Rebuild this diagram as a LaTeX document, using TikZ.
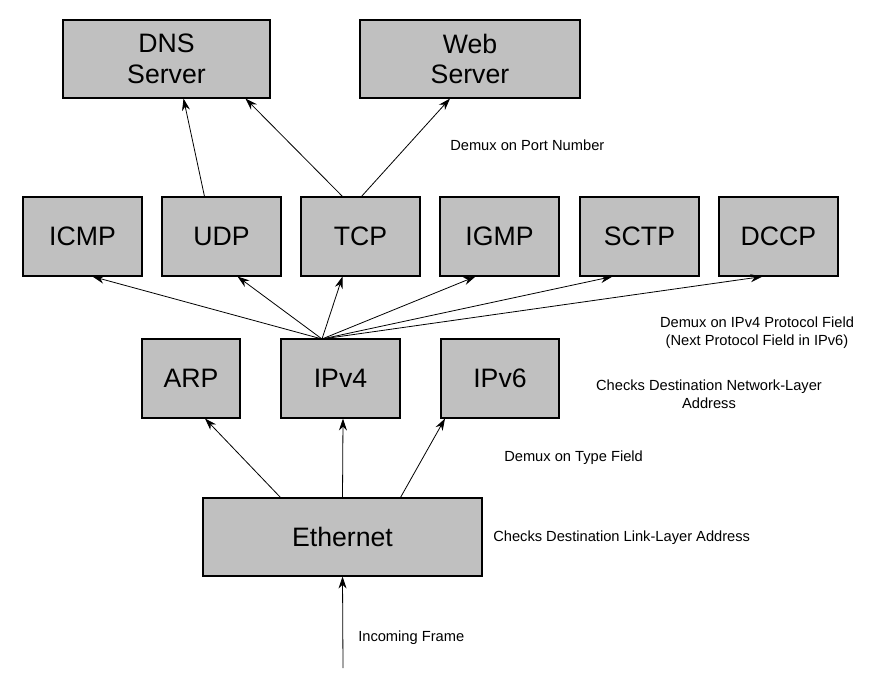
\documentclass[tikz,border=0pt]{standalone}
\usepackage{fontspec}
\setmainfont{Liberation Sans}
\usetikzlibrary{arrows.meta}
\begin{document}
\begin{tikzpicture}[x=0.75pt,y=0.75pt,yscale=-1,
  box/.style={draw,fill={rgb,255:red,192;green,192;blue,192},line width=0.8pt,inner sep=0pt,align=center,font=\fontsize{20}{23}\selectfont},
  lbl/.style={font=\fontsize{11}{13.5}\selectfont,inner sep=0pt},
  arr/.style={-{Stealth[length=9pt,width=6pt]},line width=0.6pt}]
\useasboundingbox (0,0) rectangle (891,681);
% top servers
\node[box,minimum width=207*0.75pt,minimum height=78*0.75pt] (dns) at (166.5,59) {DNS\\Server};
\node[box,minimum width=220*0.75pt,minimum height=78*0.75pt] (web) at (470,59) {Web\\Server};
% transport layer
\foreach \n/\t/\x in {icmp/ICMP/82.5,udp/UDP/221.5,tcp/TCP/360.5,igmp/IGMP/499.5,sctp/SCTP/639.5,dccp/DCCP/778.5}
  \node[box,minimum width=119*0.75pt,minimum height=79*0.75pt] (\n) at (\x,236.5) {\t};
% network layer
\node[box,minimum width=98*0.75pt,minimum height=79*0.75pt] (arp) at (191,378.5) {ARP};
\node[box,minimum width=119*0.75pt,minimum height=79*0.75pt] (ipv4) at (340.5,378.5) {IPv4};
\node[box,minimum width=118*0.75pt,minimum height=79*0.75pt] (ipv6) at (500,378.5) {IPv6};
% link layer
\node[box,minimum width=279*0.75pt,minimum height=78*0.75pt] (eth) at (342.5,537) {Ethernet};
\coordinate (in) at (343,668);
% connectors
\draw[arr] (in) -- (eth.south);
\draw[arr] ([xshift=-62*0.75pt]eth.north) -- ([xshift=14*0.75pt]arp.south);
\draw[arr] (eth.north) -- ([xshift=2.5*0.75pt]ipv4.south);
\draw[arr] ([xshift=58*0.75pt]eth.north) -- ([xshift=-55*0.75pt]ipv6.south);
\coordinate (v4top) at (322,339);
\draw[arr] (v4top) -- ([xshift=10*0.75pt]icmp.south);
\draw[arr] (v4top) -- ([xshift=16*0.75pt]udp.south);
\draw[arr] (v4top) -- ([xshift=-18*0.75pt]tcp.south);
\draw[arr] (v4top) -- ([xshift=-24*0.75pt]igmp.south);
\draw[arr] (v4top) -- ([xshift=-27*0.75pt]sctp.south);
\draw[arr] (v4top) -- ([xshift=-16*0.75pt]dccp.south);
\draw[arr] ([xshift=-17*0.75pt]udp.north) -- ([xshift=17*0.75pt]dns.south);
\draw[arr] ([xshift=-18*0.75pt]tcp.north) -- ([xshift=79*0.75pt]dns.south);
\draw[arr] ([xshift=1*0.75pt]tcp.north) -- ([xshift=-20*0.75pt]web.south);
% labels
\node[lbl,anchor=west] at (450,145) {Demux on Port Number};
\node[lbl,align=center] at (757,333) {Demux on IPv4 Protocol Field\\(Next Protocol Field in IPv6)};
\node[lbl,align=center] at (709,394) {Checks Destination Network-Layer\\Address};
\node[lbl,anchor=west] at (504,458) {Demux on Type Field};
\node[lbl,anchor=west] at (493,538) {Checks Destination Link-Layer Address};
\node[lbl,anchor=west] at (358,638) {Incoming Frame};
\end{tikzpicture}
\end{document}
